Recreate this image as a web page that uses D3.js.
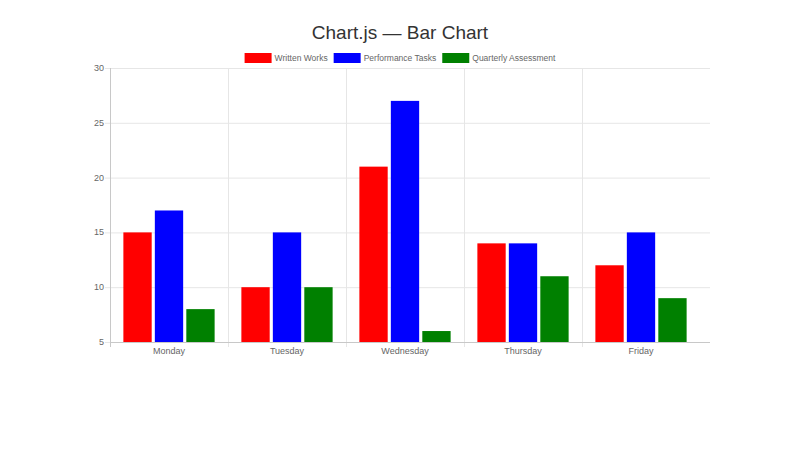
<!DOCTYPE html>
<html><head><meta charset="utf-8">
<script src="https://cdn.jsdelivr.net/npm/d3@7"></script>
<style>body{margin:0;background:#fff}text{font-family:"Liberation Sans",Arial,sans-serif}</style>
</head><body><svg id="c" width="800" height="450"></svg>
<script>
const categories=["Monday","Tuesday","Wednesday","Thursday","Friday"];
const seriesNames=["Written Works","Performance Tasks","Quarterly Assessment"];
const seriesColors=["#ff0000","#0000ff","#008000"];
const writtenWorks=[15,10,21,14,12];
const performanceTasks=[17,15,27,14,15];
const quarterlyAssessment=[8,10,6,11,9];
const yTicks=[5,10,15,20,25,30];
const series=[writtenWorks,performanceTasks,quarterlyAssessment];

const svg=d3.select("#c");
const L=110,R=700,RA=710,T=68,B=342;
const x=d3.scaleBand().domain(categories).range([L,R]);
const inner=d3.scaleBand().domain(seriesNames).range([x.bandwidth()*0.1,x.bandwidth()*0.9]);
const y=d3.scaleLinear().domain([5,30]).range([B,T]);

svg.append("text").attr("x",400).attr("y",39).attr("text-anchor","middle").attr("font-size",19).attr("fill","#333").text("Chart.js — Bar Chart");

svg.append("g").selectAll("line").data(yTicks).join("line")
 .attr("x1",L-5).attr("x2",RA).attr("y1",d=>y(d)+0.5).attr("y2",d=>y(d)+0.5).attr("stroke","#e6e6e6");
svg.append("g").selectAll("line").data(d3.range(1,categories.length)).join("line")
 .attr("x1",i=>L+i*x.bandwidth()+0.5).attr("x2",i=>L+i*x.bandwidth()+0.5).attr("y1",T).attr("y2",B+5).attr("stroke","#e6e6e6");
svg.append("line").attr("x1",L+0.5).attr("x2",L+0.5).attr("y1",T).attr("y2",B+5).attr("stroke","#c8c8c8");
svg.append("line").attr("x1",L).attr("x2",RA).attr("y1",B+0.5).attr("y2",B+0.5).attr("stroke","#c8c8c8");

svg.append("g").selectAll("text").data(yTicks).join("text")
 .attr("x",L-6).attr("y",d=>y(d)+3).attr("text-anchor","end").attr("font-size",9).attr("fill","#666").text(d=>d);
svg.append("g").selectAll("text").data(categories).join("text")
 .attr("x",d=>x(d)+x.bandwidth()/2).attr("y",B+12).attr("text-anchor","middle").attr("font-size",9).attr("fill","#666").text(d=>d);

series.forEach((vals,si)=>{
 const bw=inner.bandwidth()*0.9;
 svg.append("g").selectAll("rect").data(vals).join("rect")
  .attr("x",(d,i)=>x(categories[i])+inner(seriesNames[si])+(inner.bandwidth()-bw)/2)
  .attr("width",bw).attr("y",d=>y(d)).attr("height",d=>B-y(d)).attr("fill",seriesColors[si]);
});

const lg=svg.append("g");
const items=seriesNames.map((s,i)=>{
 const g=lg.append("g");
 g.append("rect").attr("width",27).attr("height",10).attr("fill",seriesColors[i]);
 const t=g.append("text").attr("x",30).attr("y",8.3).attr("font-size",8.5).attr("fill","#666").text(s);
 return {g,w:30+t.node().getComputedTextLength()};
});
const gap=6;
let total=d3.sum(items,d=>d.w)+gap*(items.length-1), cx=400-total/2;
items.forEach(it=>{it.g.attr("transform",`translate(${cx},53)`);cx+=it.w+gap;});
</script></body></html>
